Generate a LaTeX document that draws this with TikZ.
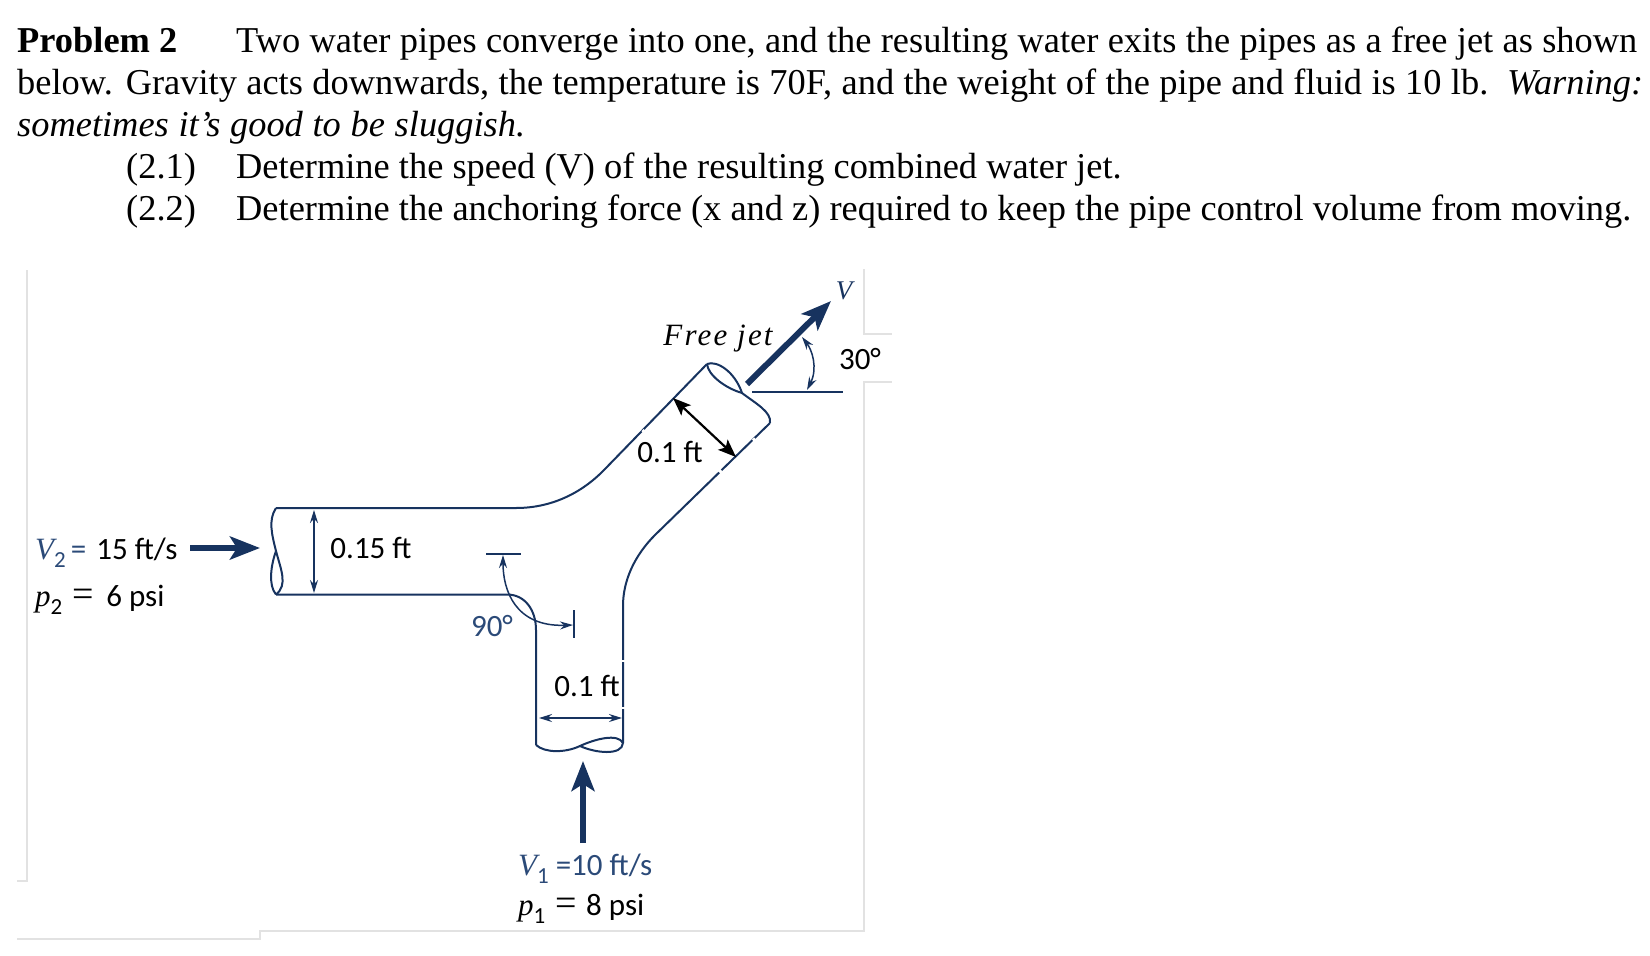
\documentclass[tikz,border=0pt]{standalone}
\usepackage{fontspec}
\setmainfont{Liberation Serif}
\newfontfamily\calib{Carlito}
\usetikzlibrary{arrows.meta}
\definecolor{navy}{HTML}{17335F}
\definecolor{navytext}{HTML}{2B4A78}
\definecolor{framegrey}{HTML}{E2E2E2}
\tikzset{
  line/.style={inner sep=0pt,anchor=base west,font=\fontsize{36.4}{42}\selectfont},
  lab/.style={inner sep=0pt,anchor=center,font=\calib\fontsize{31}{36}\selectfont},
  pipe/.style={draw=navy,line width=2pt},
  dim/.style={draw=navy,line width=1.5pt,{Stealth[length=13pt,width=8pt]}-{Stealth[length=13pt,width=8pt]}},
  blackdim/.style={draw=black,line width=2.2pt,{Stealth[length=18pt,width=14pt,inset=4pt]}-{Stealth[length=18pt,width=14pt,inset=4pt]}},
  jet/.style={draw=navy,line width=6pt,-{Stealth[length=30pt,width=23pt,inset=7pt]}},
  frameline/.style={draw=framegrey,line width=1.3pt},
  gap/.style={draw=white,line width=3pt},
}
\newcommand{\sbx}[1]{\raisebox{-0.28em}{\fontsize{23}{23}\selectfont #1}}
\newcommand{\meq}{{\rmfamily\fontsize{38}{38}\selectfont =}}
\begin{document}
\begin{tikzpicture}[x=1pt,y=-1pt]
\useasboundingbox (0,0) rectangle (1650,956);
% text
\node[line] (t1a) at (17,52) {\textbf{Problem 2}};
\node[line] (t1b) at (236,52) {\makebox[1401pt][s]{Two water pipes converge into one, and the resulting water exits the pipes as a free jet as shown}};
\node[line] (t2) at (17,94) {\makebox[1626pt][s]{below. Gravity acts downwards, the temperature is 70F, and the weight of the pipe and fluid is 10 lb.\ \ \textit{Warning:}}};
\node[line] (t3) at (17,136) {\makebox[508pt][s]{\textit{sometimes it’s good to be sluggish.}}};
\node[line] (t4a) at (126,178) {(2.1)};
\node[line] (t4b) at (236,178) {Determine the speed (V) of the resulting combined water jet.};
\node[line] (t5a) at (126,220) {(2.2)};
\node[line] (t5b) at (236,220) {\makebox[1395pt][s]{Determine the anchoring force (x and z) required to keep the pipe control volume from moving.}};
% frame
\draw[frameline] (27,270) -- (27,881) -- (17,881);
\draw[frameline] (17,939) -- (260,939) -- (260,931) -- (864,931) -- (864,382) -- (892,382);
\draw[frameline] (864,269) -- (864,334) -- (892,334);
% pipe
\draw[pipe] (276,508) -- (516,508) .. controls (555,508) and (585,490) .. (605,469) -- (707,364);
\draw[pipe] (276,594.5) -- (507,594.5) .. controls (525,594.5) and (536,610) .. (536,630) -- (536,745);
\draw[pipe] (770,423) -- (655,535) .. controls (635,555) and (623,580) .. (623,606) -- (623,743);
\draw[pipe] (276,508) .. controls (268,520) and (272,535) .. (276,551) .. controls (281,570) and (288,585) .. (276,594.5);
\draw[pipe] (276,594.5) .. controls (268,585) and (271,565) .. (276,551);
\draw[pipe] (536,745) .. controls (545,753) and (565,753) .. (580,746) .. controls (595,739) and (618,733) .. (623,743);
\draw[pipe] (580,746) .. controls (595,753) and (622,756) .. (623,743);
\draw[pipe] (707,364) .. controls (717,360) and (735,372) .. (742,393) .. controls (755,403) and (772,412) .. (770,423);
\draw[pipe] (707,364) .. controls (708,375) and (725,388) .. (742,393);
% small gaps in the lines
\draw[gap] (642.5,430) -- (645,432.5);
\draw[gap] (719,470) -- (722,473);
\draw[gap] (753,438.5) -- (756,441.5);
\draw[gap] (623,660) -- (623,662);
\draw[gap] (623,707) -- (623,709);
% dimension arrows
\draw[dim] (314,510) -- (314,593);
\draw[dim] (539,718) -- (622,718);
\draw[blackdim] (673,398) -- (736,457);
% 30 deg
\draw[draw=navy,line width=2pt] (752,392) -- (843,392);
\draw[dim] (802,337) .. controls (812,350) and (818,368) .. (807,390);
% 90 deg
\draw[pipe] (486,553.5) -- (521,553.5);
\draw[pipe] (574,610) -- (574,638);
\draw[dim] (503,555) .. controls (503,590) and (515,627) .. (573,625);
% jets
\draw[jet] (747,384) -- (831,301);
\draw[jet] (190,548) -- (260,548);
\draw[jet] (583,843) -- (583,761);
% labels
\node[lab] (l015) at (371,548) {0.15 ft};
\node[lab] (l01a) at (670,452) {0.1 ft};
\node[lab] (l01b) at (587,686) {0.1 ft};
\node[lab,text=navytext] (l90) at (492,626) {90°};
\node[lab,text=black] (l30) at (860,359) {30°};
\node[inner sep=0pt,text=navy,font=\itshape\fontsize{27}{30}\selectfont] (lV) at (844,291) {V};
\node[inner sep=0pt,font=\itshape\fontsize{31}{34}\selectfont] (lfj) at (718,339) {\addfontfeatures{LetterSpace=7}Free jet};
\node[lab,anchor=base west] (lV2) at (35,559) {\textcolor{navytext}{{\rmfamily\itshape V}\sbx{2}\,=}\kern3pt\ 15 ft/s};
\node[lab,anchor=base west] (lp2) at (35,606) {{\rmfamily\itshape p}\sbx{2}\,\,\meq\, 6 psi};
\node[lab,anchor=base west,text=navytext] (lV1) at (518,875) {{\rmfamily\itshape V}\sbx{1} =10 ft/s};
\node[lab,anchor=base west] (lp1) at (518,915) {{\rmfamily\itshape p}\sbx{1}\,\,\meq\kern2pt\ 8 psi};
\end{tikzpicture}
\end{document}
